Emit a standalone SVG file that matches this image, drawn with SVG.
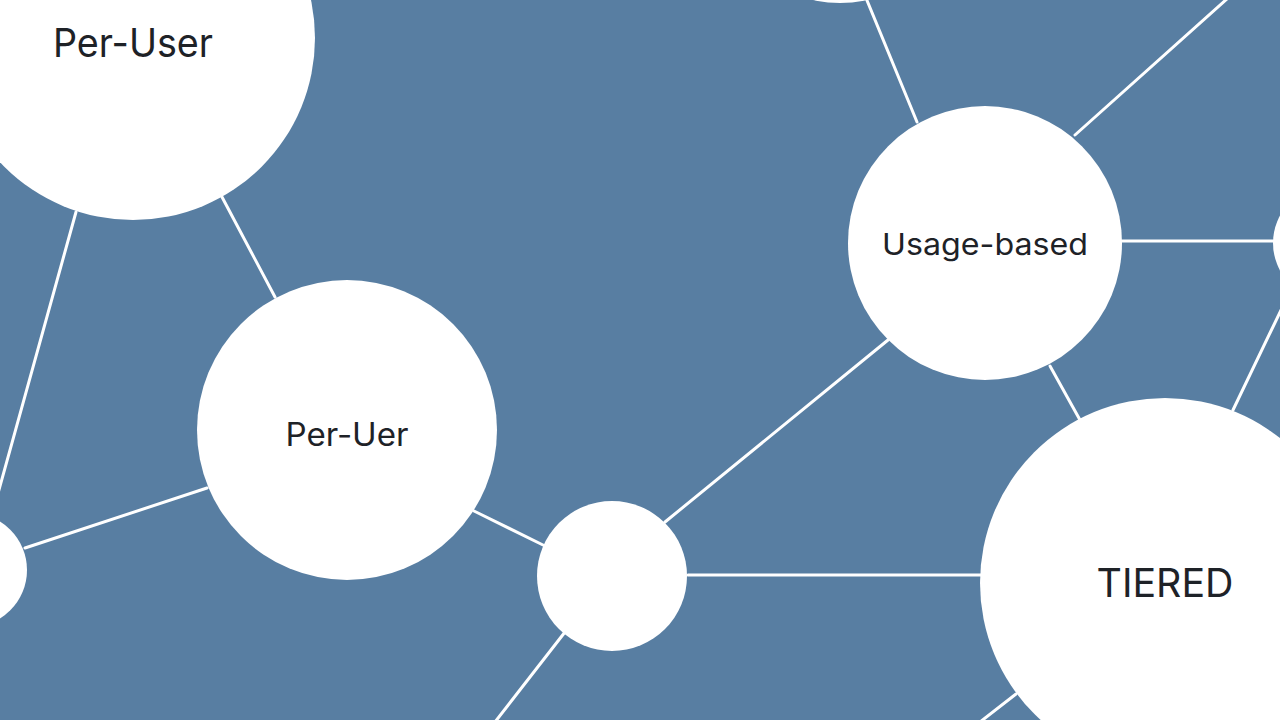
<svg xmlns="http://www.w3.org/2000/svg" width="1280" height="720" viewBox="0 0 1280 720">
<style>
.bg{fill:#587ea2}
.edge{stroke:#ffffff;stroke-width:3;stroke-linecap:round;fill:none}
.node{fill:#ffffff}
.lbl{font-family:"Inter","Liberation Sans",sans-serif;fill:#1e2227;text-anchor:middle}
</style>
<rect class="bg" x="0" y="0" width="1280" height="720"/>
<g id="connectors">
<line class="edge" x1="76" y1="212" x2="-8" y2="515"/>
<line class="edge" x1="222" y1="197" x2="275" y2="297"/>
<line class="edge" x1="207" y1="488" x2="25" y2="548"/>
<line class="edge" x1="474" y1="511" x2="545" y2="546"/>
<line class="edge" x1="665" y1="522" x2="888" y2="340"/>
<line class="edge" x1="688" y1="575" x2="981" y2="575"/>
<line class="edge" x1="565" y1="632" x2="495" y2="722"/>
<line class="edge" x1="917" y1="122" x2="866" y2="-2"/>
<line class="edge" x1="1075" y1="135" x2="1228" y2="-2"/>
<line class="edge" x1="1122" y1="241" x2="1275" y2="241"/>
<line class="edge" x1="1050" y1="366" x2="1080" y2="420"/>
<line class="edge" x1="1282" y1="308" x2="1233" y2="410"/>
<line class="edge" x1="1016" y1="694" x2="980" y2="722"/>
</g>
<g id="node-peruser-top">
<circle class="node" cx="133" cy="38" r="182"/>
<text class="lbl" x="133" y="57" font-size="39" textLength="160" lengthAdjust="spacingAndGlyphs">Per-User</text>
</g>
<g id="node-peruer">
<circle class="node" cx="347" cy="430" r="150"/>
<text class="lbl" x="347" y="446" font-size="32" textLength="123" lengthAdjust="spacingAndGlyphs">Per-Uer</text>
</g>
<g id="node-small">
<circle class="node" cx="612" cy="576" r="75"/>
</g>
<g id="node-usage">
<circle class="node" cx="985" cy="243" r="137"/>
<text class="lbl" x="985" y="255" font-size="30" textLength="206" lengthAdjust="spacingAndGlyphs">Usage-based</text>
</g>
<g id="node-tiered">
<circle class="node" cx="1165" cy="583" r="185"/>
<text class="lbl" x="1165" y="597" font-size="39" textLength="137" lengthAdjust="spacingAndGlyphs">TIERED</text>
</g>
<g id="node-top">
<circle class="node" cx="840" cy="-120" r="123"/>
</g>
<g id="node-left">
<circle class="node" cx="-30" cy="570" r="57"/>
</g>
<g id="node-right">
<circle class="node" cx="1330" cy="243" r="57"/>
</g>
</svg>
